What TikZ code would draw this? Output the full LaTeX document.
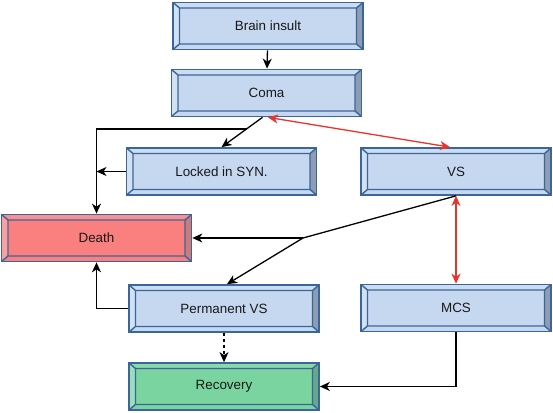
\documentclass[tikz,border=0pt]{standalone}
\usepackage{fontspec}
\setmainfont{Liberation Sans}
\usetikzlibrary{positioning,arrows.meta}
\definecolor{edge}{HTML}{3B6699}
\definecolor{bluefill}{HTML}{C5D8EF}
\definecolor{bluedark}{HTML}{8E9DB3}
\definecolor{deathfill}{HTML}{FA8080}
\definecolor{deathdark}{HTML}{C97C7C}
\definecolor{recfill}{HTML}{7AD4A0}
\definecolor{recdark}{HTML}{67A88A}
\definecolor{linkred}{HTML}{E8342A}
\tikzset{bevel/.style 2 args={draw=edge, line width=1.7pt, fill=#1, minimum width=190pt,
minimum height=47pt, inner sep=0pt, text=black!90,
font=\fontsize{13.4}{15}\selectfont,
path picture={
  \path (path picture bounding box.north west) coordinate (a1)
        (path picture bounding box.north east) coordinate (a2)
        (path picture bounding box.south east) coordinate (a3)
        (path picture bounding box.south west) coordinate (a4);
  \path ([shift={(6.5pt,-5.5pt)}]a1) coordinate (b1) ([shift={(-6.5pt,-5.5pt)}]a2) coordinate (b2)
        ([shift={(-6.5pt,5.5pt)}]a3) coordinate (b3) ([shift={(6.5pt,5.5pt)}]a4) coordinate (b4);
  \fill[#2] (a2) -- (a3) -- (b3) -- (b2) -- cycle;
  \fill[#1!75!white] (a1) -- (a4) -- (b4) -- (b1) -- cycle;
  \fill[#1!88!white] (a1) -- (a2) -- (b2) -- (b1) -- cycle;
  \draw[edge, line width=1.4pt] (b1) rectangle (b3) (a1) -- (b1) (a2) -- (b2) (a3) -- (b3) (a4) -- (b4);
}}}
\tikzstyle{flow}    = [line width=1.3pt, black, -{Stealth[length=10pt,width=9pt,inset=3pt]}]
\tikzstyle{redflow} = [line width=1.3pt, linkred, {Stealth[length=10pt,width=9pt,inset=3pt]}-{Stealth[length=10pt,width=9pt,inset=3pt]}]

\begin{document}
\begin{tikzpicture}[x=1pt,y=-1pt]
  \useasboundingbox (0,0) rectangle (553,412);

  \node[bevel={bluefill}{bluedark}] (brain) at (268,26) {Brain insult};
  \node[bevel={bluefill}{bluedark}] (coma) at (266.5,93) {Coma};
  \node[bevel={bluefill}{bluedark}] (locked) at (221.5,171.5) {Locked in SYN.};
  \node[bevel={bluefill}{bluedark}] (vs) at (456,171.5) {VS};
  \node[bevel={deathfill}{deathdark}] (death) at (96.5,238) {Death};
  \node[bevel={bluefill}{bluedark}] (pvs) at (224,308.5) {Permanent VS};
  \node[bevel={bluefill}{bluedark}] (mcs) at (456,308) {MCS};
  \node[bevel={recfill}{recdark}] (recovery) at (224,386.5) {Recovery};

  \coordinate (cj) at (247,129);
  \coordinate (vj) at (303,238);

  \draw[flow] (brain) -- (coma);
  \draw[flow] ([xshift=-4pt]coma.south) -- (locked.north);
  \draw[flow] (cj) -| (death.north);
  \draw[flow] (locked.west) -- (locked.west -| death.north);
  \draw[redflow] ([xshift=1.5pt]coma.south) -- ([xshift=-6pt]vs.north);
  \draw[redflow] (vs.south) -- (mcs.north);
  \draw[line width=1.3pt] (vs.south) -- (vj);
  \draw[flow] (vj) -- (death.east);
  \draw[flow] (vj) -- ([xshift=3pt]pvs.north);
  \draw[flow] (pvs.west) -| (death.south);
  \draw[flow, dashed] (pvs) -- (recovery);
  \draw[flow] (mcs.south) |- (recovery.east);
\end{tikzpicture}
\end{document}
